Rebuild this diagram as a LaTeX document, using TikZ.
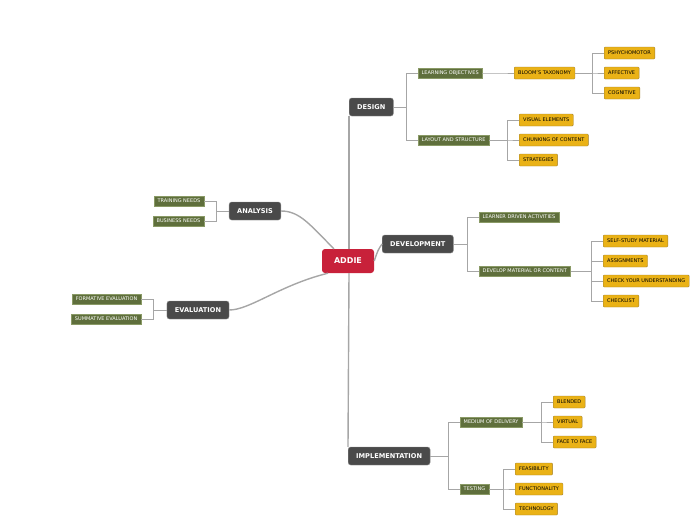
\documentclass[tikz,border=0pt]{standalone}
\usepackage{fontspec}
\setmainfont{DejaVu Sans}
\definecolor{gfill}{HTML}{5F6F3C}
\definecolor{gdraw}{HTML}{8A9A66}
\definecolor{yfill}{HTML}{EAB216}
\definecolor{ydraw}{HTML}{A08030}
\definecolor{mfill}{HTML}{4A4A4A}
\definecolor{rfill}{HTML}{C8213A}
\begin{document}
\begin{tikzpicture}[x=1pt,y=-1pt,
  main/.style={draw=black!45,fill=mfill,text=white,rounded corners=2.5pt,font=\bfseries\fontsize{6.6}{7}\selectfont,minimum height=18pt,inner xsep=8pt},
  root/.style={fill=rfill,text=white,rounded corners=3pt,font=\bfseries\fontsize{8}{9}\selectfont,minimum height=24pt,minimum width=52pt},
  grn/.style={draw=gdraw,fill=gfill,text=white,font=\fontsize{5}{5}\selectfont,minimum height=10pt,inner xsep=3.5pt,inner ysep=0pt},
  ylw/.style={draw=ydraw,fill=yfill,text=black,rounded corners=1pt,font=\fontsize{5}{5}\selectfont,minimum height=12pt,inner xsep=4pt,inner ysep=0pt},
  br/.style={draw=black!35,line width=0.8pt},
  trunk/.style={draw=black!35,line width=1.4pt}]
\useasboundingbox (0,0) rectangle (697,520);
\node[root] (addie) at (348,261) {ADDIE};
\node[main,anchor=west] (design) at (349,107) {DESIGN};
\node[main] (analysis) at (255,211) {ANALYSIS};
\node[main] (evaluation) at (198,310) {EVALUATION};
\node[main,anchor=west] (dev) at (382,244) {DEVELOPMENT};
\node[main,anchor=west] (impl) at (348,456) {IMPLEMENTATION};
% design
\node[grn,anchor=west] (lo) at (418,73) {LEARNING OBJECTIVES};
\node[grn,anchor=west] (ls) at (418,140) {LAYOUT AND STRUCTURE};
\node[ylw,anchor=west] (bt) at (514,73) {BLOOM'S TAXONOMY};
\node[ylw,anchor=west] (psy) at (604,53) {PSHYCHOMOTOR};
\node[ylw,anchor=west] (aff) at (604,73) {AFFECTIVE};
\node[ylw,anchor=west] (cog) at (604,93) {COGNITIVE};
\node[ylw,anchor=west] (ve) at (519,120) {VISUAL ELEMENTS};
\node[ylw,anchor=west] (cc) at (519,140) {CHUNKING OF CONTENT};
\node[ylw,anchor=west] (st) at (519,160) {STRATEGIES};
% analysis
\node[grn,anchor=east] (tn) at (204,201) {TRAINING NEEDS};
\node[grn,anchor=east] (bn) at (204,221) {BUSINESS NEEDS};
% evaluation
\node[grn,anchor=east] (fe) at (141,299) {FORMATIVE EVALUATION};
\node[grn,anchor=east] (se) at (141,319) {SUMMATIVE EVALUATION};
% development
\node[grn,anchor=west] (lda) at (479,217) {LEARNER DRIVEN ACTIVITIES};
\node[grn,anchor=west] (dmc) at (479,271) {DEVELOP MATERIAL OR CONTENT};
\node[ylw,anchor=west] (ssm) at (603,241) {SELF-STUDY MATERIAL};
\node[ylw,anchor=west] (asg) at (603,261) {ASSIGNMENTS};
\node[ylw,anchor=west] (cyu) at (603,281) {CHECK YOUR UNDERSTANDING};
\node[ylw,anchor=west] (chk) at (603,301) {CHECKLIST};
% implementation
\node[grn,anchor=west] (mod) at (460,422) {MEDIUM OF DELIVERY};
\node[grn,anchor=west] (tst) at (460,489) {TESTING};
\node[ylw,anchor=west] (bl) at (553,402) {BLENDED};
\node[ylw,anchor=west] (vi) at (553,422) {VIRTUAL};
\node[ylw,anchor=west] (ff) at (553,442) {FACE TO FACE};
\node[ylw,anchor=west] (fea) at (515,469) {FEASIBILITY};
\node[ylw,anchor=west] (fun) at (515,489) {FUNCTIONALITY};
\node[ylw,anchor=west] (tec) at (515,509) {TECHNOLOGY};
% trunks
\draw[trunk] ([xshift=1pt]addie.north) -- (design.south west);
\draw[trunk] ([xshift=1pt]addie.south) -- (impl.north west);
\draw[trunk] ([xshift=-14pt]addie.north) .. controls (310,225) and (300,211) .. (analysis.east);
\draw[trunk] ([xshift=-20pt]addie.south) .. controls (280,285) and (250,310) .. (evaluation.east);
\draw[trunk] (addie.east) .. controls (378,250) .. (dev.west);
% branches right
\foreach \p/\c in {design/lo,design/ls,lo/bt,ls/ve,ls/cc,ls/st,bt/psy,bt/aff,bt/cog,dev/lda,dev/dmc,dmc/ssm,dmc/asg,dmc/cyu,dmc/chk,impl/mod,impl/tst,mod/bl,mod/vi,mod/ff,tst/fea,tst/fun,tst/tec}
  \draw[br] (\p.east) -| ([xshift=-12pt]\c.west) -- (\c.west);
\foreach \p/\c in {analysis/tn,analysis/bn,evaluation/fe,evaluation/se}
  \draw[br] (\p.west) -| ([xshift=12pt]\c.east) -- (\c.east);
\end{tikzpicture}
\end{document}
